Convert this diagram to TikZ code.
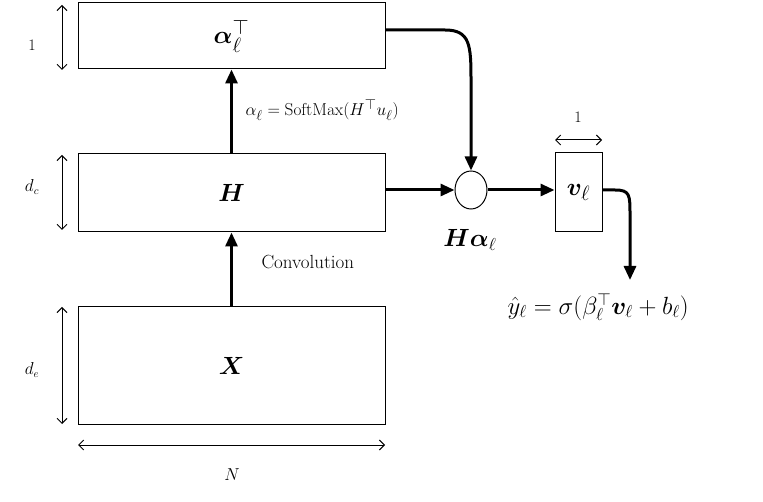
\documentclass[tikz,border=0pt]{standalone}
\usepackage{amsmath,bm}
\usetikzlibrary{arrows.meta,shapes.geometric}
\newcommand{\fs}[1]{\fontsize{#1}{#1}\selectfont}
\begin{document}
\begin{tikzpicture}[x=1pt,y=-1pt,
 box/.style={draw,line width=1pt,inner sep=0pt},
 big/.style={-{Triangle[length=14pt,width=12pt]},line width=3pt},
 dim/.style={{Straight Barb[length=5pt]}-{Straight Barb[length=5pt]},line width=1pt}]
\useasboundingbox (0,0) rectangle (763,502);
\node[box,minimum width=307pt,minimum height=66pt] (A) at (231.5,36) {\fs{32}$\bm{\alpha}_\ell^{\top}$};
\node[box,minimum width=307pt,minimum height=78pt] (H) at (231.5,193) {\fs{38}$\bm{H}$};
\node[box,minimum width=307pt,minimum height=117pt] (X) at (231.5,365.5) {\fs{38}$\bm{X}$};
\node[draw,ellipse,line width=1pt,minimum width=32pt,minimum height=38pt,inner sep=0pt] (E) at (471,190) {};
\node[box,minimum width=47pt,minimum height=79pt] (V) at (578.5,192.5) {\fs{28}$\bm{v}_\ell$};
\coordinate (a1) at (62,5); \coordinate (a2) at (62,70);
\coordinate (c1) at (62,155); \coordinate (c2) at (62,230);
\coordinate (e1) at (62,307); \coordinate (e2) at (62,424);
\coordinate (n1) at (78,445); \coordinate (n2) at (385,445);
\coordinate (w1) at (555,140); \coordinate (w2) at (602,140);
\draw[dim] (a1)--(a2); \draw[dim] (c1)--(c2); \draw[dim] (e1)--(e2);
\draw[dim] (n1)--(n2); \draw[dim] (w1)--(w2);
\node[font=\fs{16}] (l1) at (32,45) {1};
\node[font=\fs{16}] (ldc) at (32,187) {$d_c$};
\node[font=\fs{16}] (lde) at (32,370) {$d_e$};
\node[font=\fs{16}] (lN) at (232,475) {$N$};
\node[font=\fs{16}] (lw) at (578,117) {1};
\draw[big] (H.north) -- (A.south);
\draw[big] (X.north) -- (H.south);
\node[anchor=west,font=\fs{19}] (sm) at (242,110) {$\alpha_\ell=\mathrm{SoftMax}(H^{\top}u_\ell)$};
\node[anchor=west,font=\fs{19}] (cv) at (258,262) {Convolution};
\draw[big] (A.east|-0,30) -- (445,30) .. controls (470,30) and (471,45) .. (471,80) -- (E.north);
\draw[big] (H.east|-E) -- (E.west);
\draw[big] (E.east) -- (V.west|-E);
\coordinate (ye) at (630,280);
\draw[big] (V.east|-E) -- (615,190) .. controls (630,190) and (630,195) .. (630,215) -- (ye);
\node[font=\fs{24}] (ha) at (470,240) {$\bm{H}\bm{\alpha}_\ell$};
\node[anchor=west,font=\fs{27}] (yh) at (504,307) {$\hat y_\ell=\sigma(\beta_\ell^{\top}\bm{v}_\ell+b_\ell)$};
\end{tikzpicture}
\end{document}
